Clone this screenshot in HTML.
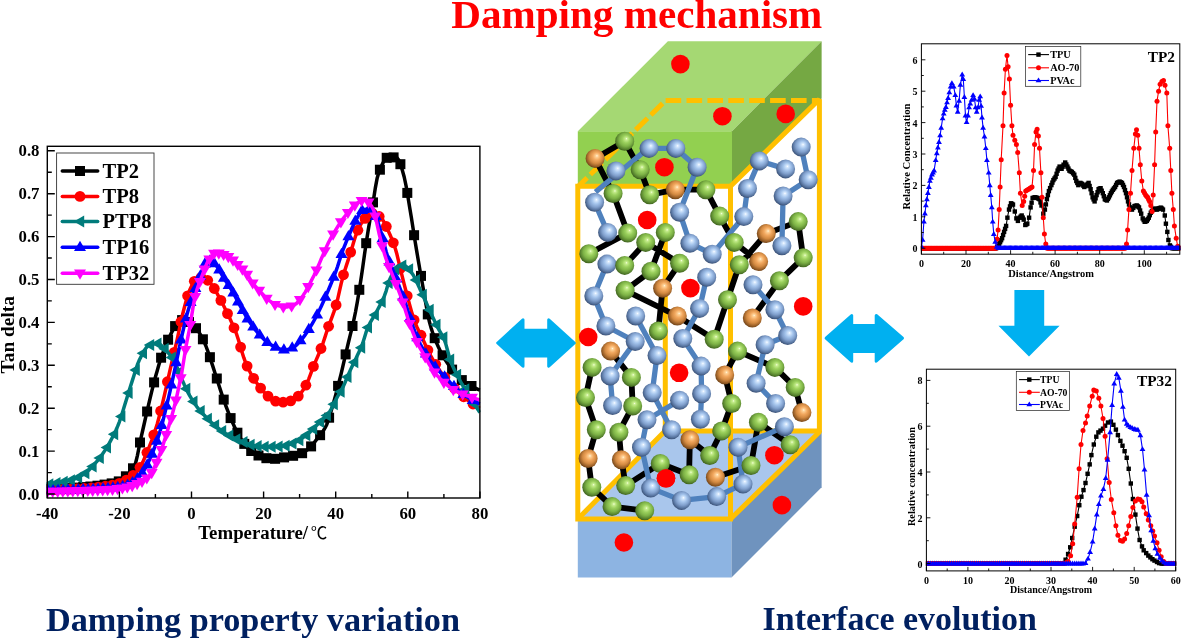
<!DOCTYPE html>
<html lang="en"><head><meta charset="utf-8"><title>Damping mechanism</title>
<style>html,body{margin:0;padding:0;background:#fff}svg{display:block}</style></head><body>
<svg width="1181" height="638" viewBox="0 0 1181 638">
<rect width="1181" height="638" fill="#fff"/>
<defs>

<marker id="mSq" markerUnits="userSpaceOnUse" markerWidth="12" markerHeight="12" refX="6" refY="6" overflow="visible"><rect x="1" y="1" width="10" height="10" fill="#000"/></marker>
<marker id="mCi" markerUnits="userSpaceOnUse" markerWidth="12" markerHeight="12" refX="6" refY="6" overflow="visible"><circle cx="6" cy="6" r="5.4" fill="#ff0000"/></marker>
<marker id="mTl" markerUnits="userSpaceOnUse" markerWidth="14" markerHeight="14" refX="7" refY="7" overflow="visible"><path d="M0.8 7L11.2 1V13Z" fill="#007b7b"/></marker>
<marker id="mTu" markerUnits="userSpaceOnUse" markerWidth="14" markerHeight="14" refX="7" refY="7" overflow="visible"><path d="M7 0.4L13 10.6H1Z" fill="#0000ff"/></marker>
<marker id="mTd" markerUnits="userSpaceOnUse" markerWidth="14" markerHeight="14" refX="7" refY="7" overflow="visible"><path d="M7 13.6L13 3.4H1Z" fill="#ff00ff"/></marker>


<marker id="sSq" markerUnits="userSpaceOnUse" markerWidth="8" markerHeight="8" refX="4" refY="4" overflow="visible"><rect x="1.8" y="1.8" width="4.4" height="4.4" fill="#000"/></marker>
<marker id="sCi" markerUnits="userSpaceOnUse" markerWidth="8" markerHeight="8" refX="4" refY="4" overflow="visible"><circle cx="4" cy="4" r="2.5" fill="#ff0000"/></marker>
<marker id="sTu" markerUnits="userSpaceOnUse" markerWidth="8" markerHeight="8" refX="4" refY="4" overflow="visible"><path d="M4 0.9L6.9 5.8H1.1Z" fill="#0000ff"/></marker>


<radialGradient id="gg" cx="0.54" cy="0.44" r="0.57" fx="0.6" fy="0.36"><stop offset="0" stop-color="#f8ffe6"/><stop offset="0.1" stop-color="#c8ee90"/><stop offset="0.35" stop-color="#9bd05d"/><stop offset="0.62" stop-color="#7db246"/><stop offset="0.84" stop-color="#5a8630"/><stop offset="1" stop-color="#3c5f1b"/></radialGradient>
<radialGradient id="gb" cx="0.54" cy="0.44" r="0.57" fx="0.6" fy="0.36"><stop offset="0" stop-color="#ffffff"/><stop offset="0.1" stop-color="#d6e8fd"/><stop offset="0.35" stop-color="#a4c4ec"/><stop offset="0.62" stop-color="#809fcc"/><stop offset="0.84" stop-color="#57749f"/><stop offset="1" stop-color="#384e73"/></radialGradient>
<radialGradient id="go" cx="0.54" cy="0.44" r="0.57" fx="0.6" fy="0.36"><stop offset="0" stop-color="#fff8e4"/><stop offset="0.1" stop-color="#ffd49a"/><stop offset="0.35" stop-color="#f2a85f"/><stop offset="0.62" stop-color="#d38a42"/><stop offset="0.84" stop-color="#9d6229"/><stop offset="1" stop-color="#6e4116"/></radialGradient>

</defs>
<text x="451.3" y="28.4" font-family="'Liberation Serif',serif" font-weight="bold" font-size="41px" fill="#ff0000" textLength="371" lengthAdjust="spacingAndGlyphs">Damping mechanism</text>
<text x="46" y="630.6" font-family="'Liberation Serif',serif" font-weight="bold" font-size="34.3px" fill="#002060" textLength="414" lengthAdjust="spacingAndGlyphs">Damping property variation</text>
<text x="762.6" y="630" font-family="'Liberation Serif',serif" font-weight="bold" font-size="34px" fill="#002060" textLength="274.3" lengthAdjust="spacingAndGlyphs">Interface evolution</text>
<g id="leftplot">
<clipPath id="cl"><rect x="46.5" y="145.5" width="434" height="353"/></clipPath>
<g clip-path="url(#cl)">
<polyline fill="none" stroke="#000" stroke-width="3.5" stroke-linejoin="round" points="47.3,488.9 49.1,488.8 50.9,488.8 52.7,488.8 54.5,488.7 56.3,488.7 58.1,488.6 59.9,488.6 61.7,488.5 63.5,488.4 65.3,488.3 67.1,488.2 68.9,488.1 70.7,488.0 72.5,487.9 74.3,487.8 76.1,487.6 77.9,487.5 79.7,487.4 81.5,487.3 83.3,487.1 85.2,487.0 87.0,486.9 88.8,486.7 90.6,486.5 92.4,486.3 94.2,486.1 96.0,485.9 97.8,485.6 99.6,485.4 101.4,485.1 103.2,484.8 105.0,484.6 106.8,484.3 108.6,484.0 110.4,483.6 112.2,483.2 114.0,482.8 115.8,482.3 117.6,481.8 119.4,481.1 121.2,480.2 123.0,478.8 124.8,477.3 126.6,475.7 128.4,474.0 130.2,472.1 132.0,469.8 133.8,466.9 135.6,463.0 137.4,455.6 139.2,446.5 141.0,437.9 142.8,430.0 144.6,422.0 146.4,414.2 148.2,406.4 150.0,398.7 151.8,391.2 153.6,384.1 155.4,377.1 157.3,370.4 159.1,364.1 160.9,358.4 162.7,353.3 164.5,348.5 166.3,344.0 168.1,339.8 169.9,336.0 171.7,332.4 173.5,328.9 175.3,325.8 177.1,323.7 178.9,322.1 180.7,320.8 182.5,320.0 184.3,319.9 186.1,320.4 187.9,321.3 189.7,322.4 191.5,323.7 193.3,325.2 195.1,327.1 196.9,329.3 198.7,331.8 200.5,334.7 202.3,338.1 204.1,341.9 205.9,346.0 207.7,350.8 209.5,356.1 211.3,361.6 213.1,367.1 214.9,372.7 216.7,378.4 218.5,384.0 220.3,389.6 222.1,395.1 223.9,400.4 225.7,405.5 227.6,410.4 229.4,415.1 231.2,419.5 233.0,423.6 234.8,427.4 236.6,431.0 238.4,434.4 240.2,437.5 242.0,440.4 243.8,443.1 245.6,445.6 247.4,447.7 249.2,449.4 251.0,450.9 252.8,452.1 254.6,453.2 256.4,454.3 258.2,455.3 260.0,456.2 261.8,457.0 263.6,457.5 265.4,458.0 267.2,458.4 269.0,458.7 270.8,458.9 272.6,459.0 274.4,458.9 276.2,458.7 278.0,458.4 279.8,458.1 281.6,457.8 283.4,457.5 285.2,457.2 287.0,456.9 288.8,456.6 290.6,456.2 292.4,455.9 294.2,455.6 296.0,455.2 297.8,454.7 299.6,454.2 301.5,453.5 303.3,452.6 305.1,451.5 306.9,450.2 308.7,448.8 310.5,447.2 312.3,445.1 314.1,442.7 315.9,440.4 317.7,438.1 319.5,436.0 321.3,433.7 323.1,431.2 324.9,428.2 326.7,424.7 328.5,419.8 330.3,413.9 332.1,407.6 333.9,401.4 335.7,394.9 337.5,388.1 339.3,381.0 341.1,373.8 342.9,366.2 344.7,358.4 346.5,350.6 348.3,343.0 350.1,335.7 351.9,328.4 353.7,320.6 355.5,312.0 357.3,302.1 359.1,291.1 360.9,279.7 362.7,267.5 364.5,254.6 366.3,242.2 368.1,230.9 369.9,220.2 371.8,209.8 373.6,199.1 375.4,187.6 377.2,177.9 379.0,172.1 380.8,167.5 382.6,163.6 384.4,160.4 386.2,158.2 388.0,157.3 389.8,157.2 391.6,157.3 393.4,157.4 395.2,157.5 397.0,157.8 398.8,160.1 400.6,164.7 402.4,170.6 404.2,177.0 406.0,185.5 407.8,196.0 409.6,207.0 411.4,217.8 413.2,229.3 415.0,240.7 416.8,251.6 418.6,262.3 420.4,272.7 422.2,282.8 424.0,292.9 425.8,303.4 427.6,313.3 429.4,321.8 431.2,328.2 433.0,333.7 434.8,338.6 436.6,343.0 438.4,347.0 440.2,350.7 442.0,354.3 443.9,357.5 445.7,360.5 447.5,363.2 449.3,365.8 451.1,368.3 452.9,370.7 454.7,373.0 456.5,375.1 458.3,377.0 460.1,378.7 461.9,380.2 463.7,381.4 465.5,382.6 467.3,383.6 469.1,384.7 470.9,385.7 472.7,386.7 474.5,387.6 476.3,388.5 478.1,389.4 479.9,390.2"/>
<polyline fill="none" stroke="none" marker-start="url(#mSq)" marker-mid="url(#mSq)" marker-end="url(#mSq)" points="47.3,488.9 54.5,488.7 61.7,488.5 68.9,488.1 76.1,487.6 83.2,487.1 90.4,486.5 97.5,485.7 104.6,484.6 111.7,483.4 118.8,481.4 125.9,476.3 133.0,468.3 140.0,442.5 147.1,411.5 154.1,382.4 161.1,357.7 168.1,339.7 175.1,326.1 182.1,320.1 189.0,322.0 196.0,328.2 202.9,339.3 209.9,357.2 216.8,378.5 223.7,399.6 230.6,418.1 237.4,432.7 244.3,443.9 251.2,451.0 258.5,455.5 266.4,458.2 275.1,458.8 284.1,457.4 293.1,455.8 302.1,453.2 311.1,446.4 320.1,435.2 329.1,417.7 338.1,385.9 345.6,354.4 352.5,326.0 359.3,289.8 366.2,243.2 373.0,202.4 379.9,169.7 386.7,157.8 393.6,157.4 400.4,164.2 407.3,192.9 414.1,235.2 421.0,275.9 427.8,314.4 434.7,338.2 442.6,355.3 452.1,369.6 461.8,380.1 471.5,386.0"/>
<polyline fill="none" stroke="#ff0000" stroke-width="3.5" stroke-linejoin="round" points="47.3,489.7 49.1,489.7 50.9,489.7 52.7,489.7 54.5,489.6 56.3,489.6 58.1,489.6 59.9,489.5 61.7,489.4 63.5,489.4 65.3,489.3 67.1,489.2 68.9,489.2 70.7,489.1 72.5,489.0 74.3,488.9 76.1,488.8 77.9,488.7 79.7,488.6 81.5,488.5 83.3,488.4 85.2,488.3 87.0,488.2 88.8,488.1 90.6,487.9 92.4,487.8 94.2,487.6 96.0,487.4 97.8,487.2 99.6,487.0 101.4,486.8 103.2,486.5 105.0,486.3 106.8,486.0 108.6,485.7 110.4,485.4 112.2,485.1 114.0,484.7 115.8,484.3 117.6,483.8 119.4,483.3 121.2,482.7 123.0,481.9 124.8,481.0 126.6,480.0 128.4,478.8 130.2,477.6 132.0,476.3 133.8,474.7 135.6,472.9 137.4,470.8 139.2,468.4 141.0,465.7 142.8,462.1 144.6,458.0 146.4,453.7 148.2,449.4 150.0,444.9 151.8,440.3 153.6,435.3 155.4,429.8 157.3,423.7 159.1,417.0 160.9,409.9 162.7,402.6 164.5,394.9 166.3,386.8 168.1,378.6 169.9,370.6 171.7,362.9 173.5,355.3 175.3,347.7 177.1,339.8 178.9,331.3 180.7,322.7 182.5,314.7 184.3,307.7 186.1,301.0 187.9,295.0 189.7,290.0 191.5,286.4 193.3,283.0 195.1,280.1 196.9,278.1 198.7,277.4 200.5,277.5 202.3,277.7 204.1,278.1 205.9,278.9 207.7,280.3 209.5,282.2 211.3,284.2 213.1,286.7 214.9,289.5 216.7,292.7 218.5,296.1 220.3,299.4 222.1,302.8 223.9,306.3 225.7,310.0 227.6,313.8 229.4,317.6 231.2,321.4 233.0,325.4 234.8,329.6 236.6,334.2 238.4,339.7 240.2,345.8 242.0,351.9 243.8,357.7 245.6,362.7 247.4,366.8 249.2,370.5 251.0,373.8 252.8,376.9 254.6,379.8 256.4,382.4 258.2,385.0 260.0,387.3 261.8,389.5 263.6,391.6 265.4,393.5 267.2,395.3 269.0,397.1 270.8,398.5 272.6,399.6 274.4,400.6 276.2,401.5 278.0,402.2 279.8,402.4 281.6,402.4 283.4,402.2 285.2,402.0 287.0,401.8 288.8,401.4 290.6,400.9 292.4,400.2 294.2,399.4 296.0,398.3 297.8,396.6 299.6,394.6 301.5,392.3 303.3,389.7 305.1,386.7 306.9,383.2 308.7,379.1 310.5,374.4 312.3,369.4 314.1,364.8 315.9,360.6 317.7,356.5 319.5,352.3 321.3,347.8 323.1,342.8 324.9,337.4 326.7,331.8 328.5,326.5 330.3,321.6 332.1,316.9 333.9,311.9 335.7,306.4 337.5,299.8 339.3,291.9 341.1,283.9 342.9,276.9 344.7,270.8 346.5,265.1 348.3,259.6 350.1,254.0 351.9,248.2 353.7,242.1 355.5,236.3 357.3,231.4 359.1,227.6 360.9,224.2 362.7,221.3 364.5,218.9 366.3,217.1 368.1,215.4 369.9,214.0 371.8,213.2 373.6,213.1 375.4,213.6 377.2,214.7 379.0,216.2 380.8,218.0 382.6,219.8 384.4,222.6 386.2,226.3 388.0,230.2 389.8,234.2 391.6,238.4 393.4,243.1 395.2,248.3 397.0,254.6 398.8,262.2 400.6,269.9 402.4,277.1 404.2,284.3 406.0,291.3 407.8,298.0 409.6,304.6 411.4,311.1 413.2,317.2 415.0,322.4 416.8,326.7 418.6,330.5 420.4,334.0 422.2,337.8 424.0,341.7 425.8,345.7 427.6,349.6 429.4,353.3 431.2,356.7 433.0,359.9 434.8,362.9 436.6,365.8 438.4,368.5 440.2,371.2 442.0,373.7 443.9,376.0 445.7,378.3 447.5,380.5 449.3,382.6 451.1,384.6 452.9,386.6 454.7,388.5 456.5,390.3 458.3,392.1 460.1,393.7 461.9,395.3 463.7,396.9 465.5,398.3 467.3,399.8 469.1,401.2 470.9,402.5 472.7,403.8 474.5,405.0 476.3,406.1 478.1,407.2 479.9,408.2"/>
<polyline fill="none" stroke="none" marker-start="url(#mCi)" marker-mid="url(#mCi)" marker-end="url(#mCi)" points="48.4,489.7 55.6,489.6 62.8,489.4 69.9,489.1 77.0,488.8 84.2,488.4 91.2,487.9 98.3,487.1 105.3,486.2 112.3,485.1 119.3,483.3 126.2,480.2 133.1,475.3 140.0,467.3 146.9,452.5 153.8,434.9 160.6,411.0 167.4,381.7 174.2,352.4 180.9,321.7 187.6,295.8 194.3,281.3 201.0,277.5 207.7,280.3 214.3,288.5 220.9,300.4 227.5,313.6 234.0,327.8 240.6,347.1 247.1,366.1 253.6,378.3 260.6,388.1 268.0,396.1 275.6,401.2 283.1,402.2 290.7,400.9 298.3,396.1 305.9,385.2 313.4,366.4 321.0,348.5 328.6,326.3 336.1,305.0 343.5,274.8 350.7,252.1 357.9,230.2 365.0,218.4 372.1,213.1 379.2,216.5 386.3,226.5 393.3,242.8 400.3,268.5 407.2,295.8 414.1,320.0 421.0,335.2 427.9,350.1 435.7,364.3 444.9,377.4 454.3,388.1 463.7,396.8 473.0,404.0"/>
<polyline fill="none" stroke="#007b7b" stroke-width="3.5" stroke-linejoin="round" points="47.3,484.6 49.1,484.3 50.9,484.0 52.7,483.7 54.5,483.4 56.3,483.1 58.1,482.8 59.9,482.5 61.7,482.1 63.5,481.8 65.3,481.4 67.1,481.1 68.9,480.6 70.7,480.2 72.5,479.6 74.3,479.0 76.1,478.3 77.9,477.4 79.7,476.5 81.5,475.5 83.3,474.4 85.2,473.2 87.0,471.8 88.8,470.2 90.6,468.3 92.4,466.4 94.2,464.4 96.0,462.4 97.8,460.3 99.6,458.0 101.4,455.7 103.2,453.1 105.0,450.4 106.8,447.5 108.6,444.5 110.4,441.2 112.2,437.8 114.0,434.3 115.8,430.5 117.6,426.4 119.4,421.8 121.2,416.6 123.0,410.7 124.8,404.7 126.6,399.0 128.4,393.1 130.2,387.3 132.0,381.6 133.8,376.0 135.6,370.1 137.4,364.7 139.2,360.3 141.0,356.7 142.8,353.2 144.6,350.0 146.4,347.5 148.2,345.7 150.0,344.9 151.8,344.3 153.6,343.9 155.4,343.6 157.3,343.4 159.1,343.8 160.9,345.0 162.7,346.7 164.5,348.7 166.3,350.7 168.1,352.7 169.9,354.9 171.7,357.4 173.5,360.2 175.3,363.4 177.1,367.4 178.9,372.0 180.7,376.5 182.5,380.6 184.3,384.8 186.1,388.7 187.9,392.3 189.7,395.6 191.5,398.7 193.3,401.6 195.1,404.3 196.9,406.8 198.7,409.0 200.5,411.2 202.3,413.2 204.1,415.1 205.9,416.9 207.7,418.7 209.5,420.5 211.3,422.2 213.1,423.8 214.9,425.4 216.7,426.9 218.5,428.3 220.3,429.7 222.1,431.0 223.9,432.2 225.7,433.4 227.6,434.6 229.4,435.7 231.2,436.7 233.0,437.6 234.8,438.5 236.6,439.3 238.4,440.1 240.2,440.8 242.0,441.5 243.8,442.2 245.6,442.9 247.4,443.5 249.2,444.2 251.0,444.9 252.8,445.4 254.6,445.7 256.4,446.0 258.2,446.2 260.0,446.4 261.8,446.6 263.6,446.7 265.4,446.8 267.2,446.8 269.0,446.8 270.8,446.8 272.6,446.7 274.4,446.7 276.2,446.6 278.0,446.5 279.8,446.4 281.6,446.3 283.4,446.0 285.2,445.7 287.0,445.2 288.8,444.7 290.6,444.1 292.4,443.5 294.2,442.8 296.0,442.0 297.8,441.0 299.6,439.9 301.5,438.7 303.3,437.4 305.1,436.0 306.9,434.6 308.7,433.2 310.5,431.6 312.3,429.8 314.1,428.0 315.9,426.1 317.7,424.2 319.5,422.4 321.3,420.7 323.1,419.1 324.9,417.4 326.7,415.6 328.5,413.4 330.3,410.8 332.1,407.4 333.9,403.6 335.7,399.9 337.5,396.6 339.3,393.6 341.1,390.5 342.9,387.2 344.7,383.3 346.5,379.0 348.3,374.6 350.1,370.6 351.9,366.8 353.7,363.1 355.5,359.4 357.3,355.6 359.1,351.8 360.9,347.8 362.7,343.2 364.5,337.5 366.3,331.6 368.1,326.9 369.9,323.2 371.8,319.9 373.6,316.9 375.4,313.8 377.2,310.5 379.0,307.1 380.8,303.6 382.6,299.9 384.4,295.9 386.2,290.8 388.0,284.4 389.8,279.2 391.6,275.6 393.4,272.4 395.2,269.7 397.0,267.8 398.8,266.7 400.6,265.9 402.4,265.4 404.2,265.4 406.0,266.4 407.8,268.0 409.6,270.2 411.4,272.4 413.2,275.0 415.0,278.3 416.8,282.1 418.6,286.1 420.4,290.1 422.2,294.0 424.0,297.9 425.8,301.8 427.6,305.8 429.4,309.7 431.2,313.7 433.0,317.7 434.8,321.6 436.6,325.4 438.4,328.8 440.2,331.8 442.0,335.0 443.9,338.7 445.7,343.6 447.5,350.2 449.3,357.0 451.1,362.2 452.9,366.5 454.7,370.4 456.5,374.0 458.3,377.5 460.1,380.8 461.9,384.0 463.7,387.0 465.5,390.0 467.3,392.9 469.1,395.8 470.9,398.6 472.7,401.5 474.5,404.3 476.3,407.1 478.1,409.8 479.9,412.5"/>
<polyline fill="none" stroke="none" marker-start="url(#mTl)" marker-mid="url(#mTl)" marker-end="url(#mTl)" points="49.1,484.3 56.3,483.1 63.5,481.8 70.7,480.2 77.9,477.4 85.2,473.2 92.4,466.4 99.6,458.0 106.8,447.5 114.0,434.3 121.2,416.6 128.4,393.1 135.6,370.1 142.8,353.2 150.0,344.9 157.3,343.4 164.5,348.7 171.7,357.4 178.9,372.0 186.1,388.7 193.3,401.6 200.5,411.1 207.7,418.7 214.9,425.3 222.0,430.9 229.1,435.5 236.2,439.2 243.3,442.0 250.4,444.7 257.4,446.1 264.4,446.8 271.4,446.8 278.4,446.5 285.4,445.7 292.3,443.5 299.2,440.2 306.1,435.2 313.0,429.0 319.9,422.0 326.7,415.5 333.6,404.2 340.4,391.7 347.3,377.1 354.1,362.3 361.0,347.7 367.8,327.6 374.7,315.0 381.5,302.1 388.4,283.0 395.2,269.6 402.1,265.5 408.9,269.3 415.8,279.9 422.6,294.8 429.5,309.8 436.3,324.8 443.2,337.3 450.0,359.4 456.9,374.8 465.1,389.3 474.5,404.2"/>
<polyline fill="none" stroke="#0000ff" stroke-width="3.5" stroke-linejoin="round" points="47.3,490.6 49.1,490.6 50.9,490.5 52.7,490.5 54.5,490.5 56.3,490.5 58.1,490.4 59.9,490.4 61.7,490.4 63.5,490.3 65.3,490.3 67.1,490.2 68.9,490.2 70.7,490.1 72.5,490.1 74.3,490.0 76.1,490.0 77.9,489.9 79.7,489.8 81.5,489.8 83.3,489.7 85.2,489.6 87.0,489.6 88.8,489.5 90.6,489.4 92.4,489.3 94.2,489.3 96.0,489.2 97.8,489.1 99.6,489.0 101.4,488.8 103.2,488.7 105.0,488.6 106.8,488.5 108.6,488.3 110.4,488.2 112.2,488.0 114.0,487.8 115.8,487.6 117.6,487.3 119.4,487.0 121.2,486.7 123.0,486.3 124.8,485.9 126.6,485.4 128.4,484.8 130.2,484.0 132.0,483.0 133.8,481.9 135.6,480.6 137.4,478.9 139.2,477.0 141.0,474.7 142.8,472.2 144.6,469.4 146.4,466.2 148.2,462.6 150.0,458.7 151.8,454.5 153.6,450.1 155.4,445.2 157.3,440.0 159.1,434.4 160.9,428.5 162.7,421.8 164.5,414.6 166.3,407.1 168.1,399.6 169.9,391.8 171.7,383.7 173.5,375.5 175.3,367.1 177.1,358.4 178.9,349.7 180.7,341.4 182.5,333.2 184.3,325.3 186.1,317.9 187.9,311.3 189.7,305.3 191.5,299.7 193.3,294.4 195.1,289.3 196.9,284.5 198.7,279.8 200.5,275.2 202.3,270.1 204.1,265.4 205.9,262.9 207.7,261.8 209.5,261.2 211.3,261.2 213.1,262.3 214.9,264.2 216.7,266.2 218.5,268.8 220.3,271.9 222.1,275.2 223.9,278.2 225.7,281.0 227.6,283.7 229.4,286.5 231.2,289.3 233.0,292.3 234.8,295.6 236.6,299.1 238.4,302.6 240.2,305.9 242.0,309.1 243.8,312.3 245.6,315.5 247.4,318.5 249.2,321.3 251.0,324.0 252.8,326.5 254.6,328.9 256.4,331.2 258.2,333.3 260.0,335.3 261.8,337.1 263.6,339.0 265.4,340.7 267.2,342.3 269.0,343.6 270.8,344.7 272.6,345.6 274.4,346.6 276.2,347.4 278.0,348.2 279.8,348.9 281.6,349.4 283.4,349.7 285.2,349.9 287.0,349.7 288.8,349.2 290.6,348.6 292.4,347.8 294.2,346.9 296.0,345.5 297.8,343.7 299.6,341.7 301.5,339.6 303.3,337.3 305.1,334.9 306.9,332.3 308.7,329.5 310.5,326.7 312.3,323.7 314.1,320.5 315.9,317.2 317.7,313.6 319.5,310.0 321.3,306.2 323.1,302.3 324.9,298.2 326.7,294.1 328.5,289.8 330.3,285.5 332.1,281.1 333.9,276.6 335.7,271.9 337.5,266.7 339.3,261.0 341.1,255.4 342.9,250.2 344.7,245.6 346.5,241.2 348.3,237.0 350.1,232.8 351.9,228.5 353.7,224.4 355.5,220.7 357.3,217.6 359.1,214.4 360.9,211.7 362.7,210.1 364.5,209.6 366.3,209.3 368.1,209.1 369.9,209.7 371.8,211.0 373.6,213.0 375.4,215.4 377.2,219.8 379.0,225.5 380.8,231.5 382.6,237.8 384.4,244.8 386.2,251.7 388.0,257.5 389.8,262.5 391.6,267.1 393.4,271.5 395.2,275.9 397.0,280.5 398.8,285.2 400.6,289.8 402.4,294.5 404.2,299.4 406.0,304.7 407.8,310.5 409.6,316.3 411.4,322.0 413.2,327.0 415.0,331.9 416.8,336.4 418.6,340.6 420.4,344.2 422.2,347.6 424.0,350.9 425.8,353.9 427.6,356.7 429.4,359.4 431.2,361.9 433.0,364.2 434.8,366.4 436.6,368.4 438.4,370.4 440.2,372.3 442.0,374.2 443.9,376.0 445.7,377.9 447.5,379.8 449.3,381.6 451.1,383.5 452.9,385.3 454.7,387.0 456.5,388.7 458.3,390.3 460.1,391.8 461.9,393.2 463.7,394.5 465.5,395.7 467.3,397.0 469.1,398.1 470.9,399.3 472.7,400.3 474.5,401.3 476.3,402.3 478.1,403.1 479.9,403.9"/>
<polyline fill="none" stroke="none" marker-start="url(#mTu)" marker-mid="url(#mTu)" marker-end="url(#mTu)" points="48.0,490.6 53.1,490.5 58.1,490.4 63.1,490.3 68.1,490.2 73.2,490.0 78.2,489.9 83.1,489.7 88.1,489.5 93.1,489.3 98.1,489.1 103.0,488.7 108.0,488.4 112.9,487.9 117.8,487.3 122.7,486.4 127.6,485.1 132.5,482.7 137.4,478.9 142.3,473.0 147.2,464.8 152.0,454.1 156.9,441.1 161.7,425.3 166.6,405.9 171.4,384.9 176.2,362.6 181.0,339.8 185.8,319.0 190.6,302.4 195.4,288.5 200.2,276.1 204.9,263.9 209.7,261.1 214.4,263.6 219.2,269.9 223.9,278.1 228.6,285.4 233.3,293.0 238.0,301.9 242.7,310.5 247.5,318.8 253.2,327.0 259.7,335.0 267.3,342.4 275.6,347.2 283.9,349.8 292.2,347.9 300.5,340.7 308.8,329.3 317.1,314.8 325.4,297.1 333.7,277.2 341.5,254.3 348.4,236.7 355.3,221.2 362.1,210.5 369.0,209.3 375.8,216.4 382.7,238.3 389.5,261.9 396.4,279.0 403.2,296.8 410.1,317.9 417.3,337.7 425.9,353.9 435.2,366.9 444.6,376.8 454.0,386.4 463.4,394.3 472.7,400.3"/>
<polyline fill="none" stroke="#ff00ff" stroke-width="3.5" stroke-linejoin="round" points="47.3,491.4 49.1,491.4 50.9,491.4 52.7,491.3 54.5,491.3 56.3,491.3 58.1,491.2 59.9,491.2 61.7,491.2 63.5,491.1 65.3,491.1 67.1,491.0 68.9,491.0 70.7,490.9 72.5,490.9 74.3,490.8 76.1,490.8 77.9,490.7 79.7,490.7 81.5,490.6 83.3,490.6 85.2,490.5 87.0,490.5 88.8,490.4 90.6,490.3 92.4,490.3 94.2,490.2 96.0,490.1 97.8,490.1 99.6,490.0 101.4,489.9 103.2,489.8 105.0,489.7 106.8,489.6 108.6,489.5 110.4,489.4 112.2,489.3 114.0,489.1 115.8,488.9 117.6,488.7 119.4,488.5 121.2,488.2 123.0,487.8 124.8,487.5 126.6,487.1 128.4,486.7 130.2,486.2 132.0,485.7 133.8,485.0 135.6,484.4 137.4,483.6 139.2,482.8 141.0,481.9 142.8,480.8 144.6,479.7 146.4,478.3 148.2,476.7 150.0,474.9 151.8,472.4 153.6,469.0 155.4,465.0 157.3,460.6 159.1,456.2 160.9,451.3 162.7,446.0 164.5,440.3 166.3,434.5 168.1,428.6 169.9,422.6 171.7,416.3 173.5,409.7 175.3,402.6 177.1,395.0 178.9,386.7 180.7,377.8 182.5,368.2 184.3,357.0 186.1,345.8 187.9,336.8 189.7,328.0 191.5,316.9 193.3,305.7 195.1,296.4 196.9,289.9 198.7,284.5 200.5,279.8 202.3,275.2 204.1,270.4 205.9,265.6 207.7,261.6 209.5,258.7 211.3,256.2 213.1,254.2 214.9,253.0 216.7,252.9 218.5,253.2 220.3,253.6 222.1,254.1 223.9,254.6 225.7,255.3 227.6,256.3 229.4,257.4 231.2,258.7 233.0,260.0 234.8,261.6 236.6,263.3 238.4,265.2 240.2,267.0 242.0,268.8 243.8,270.6 245.6,272.6 247.4,274.7 249.2,277.5 251.0,280.6 252.8,283.1 254.6,285.3 256.4,287.4 258.2,289.4 260.0,291.3 261.8,293.3 263.6,295.2 265.4,297.1 267.2,298.9 269.0,300.4 270.8,301.7 272.6,303.0 274.4,304.1 276.2,305.0 278.0,305.6 279.8,306.1 281.6,306.5 283.4,306.8 285.2,307.0 287.0,306.9 288.8,306.6 290.6,306.2 292.4,305.7 294.2,305.1 296.0,303.9 297.8,302.1 299.6,300.0 301.5,297.6 303.3,295.2 305.1,292.3 306.9,289.1 308.7,285.7 310.5,282.4 312.3,278.8 314.1,275.2 315.9,271.3 317.7,267.3 319.5,263.1 321.3,258.8 323.1,254.7 324.9,250.5 326.7,246.4 328.5,242.5 330.3,239.1 332.1,235.8 333.9,232.8 335.7,229.9 337.5,227.0 339.3,224.2 341.1,221.5 342.9,218.9 344.7,216.5 346.5,214.3 348.3,212.1 350.1,210.1 351.9,208.0 353.7,206.1 355.5,204.5 357.3,203.2 359.1,202.0 360.9,200.8 362.7,200.0 364.5,199.7 366.3,200.2 368.1,201.7 369.9,203.9 371.8,206.6 373.6,209.9 375.4,216.3 377.2,224.9 379.0,233.2 380.8,240.3 382.6,247.2 384.4,253.6 386.2,259.1 388.0,264.0 389.8,268.4 391.6,272.8 393.4,277.3 395.2,281.9 397.0,286.5 398.8,291.2 400.6,295.9 402.4,300.9 404.2,306.4 406.0,312.2 407.8,318.1 409.6,323.5 411.4,328.5 413.2,333.2 415.0,337.7 416.8,341.7 418.6,345.3 420.4,348.6 422.2,351.7 424.0,354.8 425.8,358.1 427.6,361.4 429.4,364.7 431.2,367.7 433.0,370.2 434.8,372.6 436.6,374.8 438.4,376.8 440.2,378.7 442.0,380.5 443.9,382.2 445.7,383.9 447.5,385.4 449.3,386.9 451.1,388.2 452.9,389.3 454.7,390.4 456.5,391.4 458.3,392.3 460.1,393.1 461.9,393.9 463.7,394.6 465.5,395.2 467.3,395.8 469.1,396.4 470.9,397.0 472.7,397.6 474.5,398.2 476.3,398.8 478.1,399.4 479.9,400.0"/>
<polyline fill="none" stroke="none" marker-start="url(#mTd)" marker-mid="url(#mTd)" marker-end="url(#mTd)" points="47.7,491.4 52.7,491.3 57.7,491.3 62.8,491.1 67.8,491.0 72.8,490.9 77.8,490.7 82.8,490.6 87.8,490.4 92.7,490.3 97.7,490.1 102.7,489.9 107.6,489.6 112.5,489.3 117.5,488.7 122.4,488.0 127.3,487.0 132.2,485.6 137.1,483.7 142.0,481.3 146.8,478.0 151.7,472.7 156.5,462.3 161.4,449.7 166.2,434.6 171.1,418.5 175.9,400.2 180.7,377.8 185.5,349.5 190.3,324.6 195.1,296.6 199.8,281.6 204.6,269.1 209.3,259.0 214.1,253.4 218.8,253.2 223.6,254.5 228.3,256.7 233.0,260.1 237.7,264.5 242.4,269.2 247.1,274.4 252.7,283.0 259.2,290.4 266.7,298.4 275.0,304.5 283.3,306.8 291.6,306.0 299.9,299.6 308.2,286.6 316.5,270.0 324.8,250.8 333.1,234.2 340.9,221.8 347.9,212.5 354.8,205.1 361.6,200.5 368.5,202.1 375.3,216.2 382.2,245.8 389.0,266.7 395.9,283.7 402.7,302.0 409.6,323.5 416.8,341.6 425.2,356.9 434.5,372.2 443.9,382.3 453.3,389.6 462.7,394.2 472.0,397.4"/>
</g>
<rect x="47.3" y="146.3" width="432.6" height="351.7" fill="none" stroke="#000" stroke-width="1.4"/>
<path d="M47.3 494.0h7.5M47.3 472.6h4.5M47.3 451.1h7.5M47.3 429.6h4.5M47.3 408.2h7.5M47.3 386.8h4.5M47.3 365.3h7.5M47.3 343.9h4.5M47.3 322.4h7.5M47.3 300.9h4.5M47.3 279.5h7.5M47.3 258.0h4.5M47.3 236.6h7.5M47.3 215.1h4.5M47.3 193.7h7.5M47.3 172.2h4.5M47.3 150.8h7.5M47.3 498v-6.5M83.3 498v-4.0M119.4 498v-6.5M155.4 498v-4.0M191.5 498v-6.5M227.6 498v-4.0M263.6 498v-6.5M299.6 498v-4.0M335.7 498v-6.5M371.8 498v-4.0M407.8 498v-6.5M443.9 498v-4.0M479.9 498v-6.5" stroke="#000" stroke-width="1.4" fill="none"/>
<g font-family="'Liberation Serif',serif" font-weight="bold" font-size="16.8px" fill="#000">
<text x="39.5" y="499.6" text-anchor="end">0.0</text>
<text x="39.5" y="456.7" text-anchor="end">0.1</text>
<text x="39.5" y="413.8" text-anchor="end">0.2</text>
<text x="39.5" y="370.9" text-anchor="end">0.3</text>
<text x="39.5" y="328.0" text-anchor="end">0.4</text>
<text x="39.5" y="285.1" text-anchor="end">0.5</text>
<text x="39.5" y="242.2" text-anchor="end">0.6</text>
<text x="39.5" y="199.3" text-anchor="end">0.7</text>
<text x="39.5" y="156.4" text-anchor="end">0.8</text>
<text x="47.3" y="518.6" text-anchor="middle">-40</text>
<text x="119.4" y="518.6" text-anchor="middle">-20</text>
<text x="191.5" y="518.6" text-anchor="middle">0</text>
<text x="263.6" y="518.6" text-anchor="middle">20</text>
<text x="335.7" y="518.6" text-anchor="middle">40</text>
<text x="407.8" y="518.6" text-anchor="middle">60</text>
<text x="479.9" y="518.6" text-anchor="middle">80</text>
</g>
<text transform="translate(13.7 334.7) rotate(-90)" x="-38.75" font-family="'Liberation Serif',serif" font-weight="bold" font-size="18.8px" textLength="77.5" lengthAdjust="spacingAndGlyphs">Tan delta</text>
<text x="198.3" y="539.2" font-family="'Liberation Serif',serif" font-weight="bold" font-size="18.5px" textLength="109.7" lengthAdjust="spacingAndGlyphs">Temperature/</text>
<text x="310.8" y="539.2" font-family="'Liberation Sans','Noto Sans CJK SC',sans-serif" font-size="16.5px">℃</text>
<rect x="56.6" y="153" width="97.4" height="131.3" fill="#fff" stroke="#333" stroke-width="0.9"/>
<path d="M62.3 171.0H97.7" stroke="#000" stroke-width="3.5" stroke-linecap="round" fill="none"/>
<polyline fill="none" stroke="none" marker-start="url(#mSq)" points="80,171.0 81,171.0"/>
<text x="102.5" y="177.8" font-family="'Liberation Serif',serif" font-weight="bold" font-size="20.5px">TP2</text>
<path d="M62.3 196.4H97.7" stroke="#ff0000" stroke-width="3.5" stroke-linecap="round" fill="none"/>
<polyline fill="none" stroke="none" marker-start="url(#mCi)" points="80,196.4 81,196.4"/>
<text x="102.5" y="203.2" font-family="'Liberation Serif',serif" font-weight="bold" font-size="20.5px">TP8</text>
<path d="M62.3 221.5H97.7" stroke="#007b7b" stroke-width="3.5" stroke-linecap="round" fill="none"/>
<polyline fill="none" stroke="none" marker-start="url(#mTl)" points="80,221.5 81,221.5"/>
<text x="102.5" y="228.3" font-family="'Liberation Serif',serif" font-weight="bold" font-size="20.5px">PTP8</text>
<path d="M62.3 247.3H97.7" stroke="#0000ff" stroke-width="3.5" stroke-linecap="round" fill="none"/>
<polyline fill="none" stroke="none" marker-start="url(#mTu)" points="80,247.3 81,247.3"/>
<text x="102.5" y="254.1" font-family="'Liberation Serif',serif" font-weight="bold" font-size="20.5px">TP16</text>
<path d="M62.3 273.2H97.7" stroke="#ff00ff" stroke-width="3.5" stroke-linecap="round" fill="none"/>
<polyline fill="none" stroke="none" marker-start="url(#mTd)" points="80,273.2 81,273.2"/>
<text x="102.5" y="280.0" font-family="'Liberation Serif',serif" font-weight="bold" font-size="20.5px">TP32</text>
</g>
<g id="center">
<path d="M577.8 131.2L667.9 41.2H821.6L732 131.2Z" fill="#a5d873"/>
<path d="M577.8 131.2H732V186.5H577.8Z" fill="#92d050"/>
<path d="M732 131.2L821.6 41.2V98.5L732 186.5Z" fill="#75a843"/>
<path d="M577.8 519.5L664.5 430.5H821.6L731.5 519.5Z" fill="#a9c6ec"/>
<path d="M577.8 519.5H731.5V577.6H577.8Z" fill="#8db4e2"/>
<path d="M731.5 519.5L821.6 430.5V487.3L731.5 577.6Z" fill="#6f93be"/>
<g fill="none" stroke="#ffc000" stroke-width="5" stroke-linejoin="miter">
<path d="M665.6 100.5H819.4" stroke-dasharray="15.6 5.3"/>
<path d="M664.6 101.4L577.3 187.4" stroke-dasharray="16.6 4.6" stroke-dashoffset="18.4"/>
<path d="M665.3 186V431M664.5 431H819.4M577.8 519L665 431"/>
<path d="M577.8 186.3H730.5V519H577.8Z"/>
<path d="M730.5 186.3L819.4 99.2V432L730.5 519" stroke-linejoin="bevel"/>
</g>
<circle cx="680.4" cy="64.1" r="9.3" fill="#ff0000"/>
<circle cx="722.4" cy="116.2" r="9.3" fill="#ff0000"/>
<circle cx="785.7" cy="113.9" r="9.3" fill="#ff0000"/>
<circle cx="664.4" cy="167.2" r="9.3" fill="#ff0000"/>
<circle cx="647.2" cy="220.0" r="9.3" fill="#ff0000"/>
<circle cx="690.4" cy="288.1" r="9.3" fill="#ff0000"/>
<circle cx="803.2" cy="306.4" r="9.3" fill="#ff0000"/>
<circle cx="588.2" cy="337.0" r="9.3" fill="#ff0000"/>
<circle cx="679.1" cy="372.8" r="9.3" fill="#ff0000"/>
<circle cx="666.0" cy="478.3" r="9.3" fill="#ff0000"/>
<circle cx="774.4" cy="455.2" r="9.3" fill="#ff0000"/>
<circle cx="781.9" cy="505.1" r="9.3" fill="#ff0000"/>
<circle cx="623.9" cy="542.5" r="9.3" fill="#ff0000"/>
<path d="M595.1 158.4L624.7 141.3M624.7 141.3L640.2 169.7M640.2 169.7L649.7 194.8M649.7 194.8L675.3 189.7M675.3 189.7L705.9 189.7M705.9 189.7L719.7 216.1M719.7 216.1L734.2 242.4M595.1 158.4L613.1 193.5M613.1 193.5L627.7 233.1M588.8 253.7L627.7 233.1M645.7 242.4L624.7 265.4M645.7 242.4L679.6 263.2M665.3 232.4L651.0 271.2M679.6 263.2L662.6 288.3M651.0 271.2L625.1 290.3M734.2 242.4L758.6 261.6M766.3 233.6L739.3 264.8M766.3 233.6L798.2 221.6M798.2 221.6L803.2 257.8M803.2 257.8L779.4 280.8M739.3 264.8L727.5 299.7M625.1 290.3L677.3 316.0M662.6 288.3L658.3 331.0M677.3 316.0L714.2 339.3M714.2 339.3L727.5 299.7M779.4 280.8L752.3 318.0M737.5 351.1L774.9 367.4M774.9 367.4L795.2 387.4M795.2 387.4L801.9 412.6M737.5 351.1L724.7 374.9M724.7 374.9L731.7 403.5M731.7 403.5L721.7 430.9M592.1 367.4L585.5 397.6M585.5 397.6L596.3 429.7M610.6 351.1L631.4 377.4M631.4 377.4L632.7 406.0M632.7 406.0L618.9 432.2M596.3 429.7L588.1 458.5M588.1 458.5L591.8 487.3M591.8 487.3L612.1 506.6M612.1 506.6L644.7 510.7M618.9 432.2L621.4 459.8M621.4 459.8L625.7 485.6M625.7 485.6L660.3 463.5M660.3 463.5L689.1 474.8M689.1 474.8L689.9 439.7M689.9 439.7L709.7 455.5M709.7 455.5L721.7 430.9M715.4 477.3L751.0 465.5M751.0 465.5L758.4 422.3M758.4 422.3L790.2 444.7" stroke="#000" stroke-width="5.8" fill="none"/>
<path d="M649.0 148.4L675.8 148.4M675.8 148.4L697.1 167.2M594.6 202.3L607.6 232.4M697.1 167.2L679.6 212.3M679.6 212.3L689.9 243.2M689.9 243.2L712.2 254.2M712.2 254.2L743.8 216.6M743.8 216.6L747.5 188.5M747.5 188.5L759.3 160.9M759.3 160.9L785.6 168.9M801.2 147.1L808.2 179.7M808.2 179.7L783.1 196.0M783.1 196.0L781.9 245.7M606.9 264.1L593.8 295.9M593.8 295.9L605.9 326.0M605.9 326.0L635.2 341.5M635.2 341.5L610.1 376.1M610.1 376.1L612.6 405.5M635.7 316.0L657.0 355.6M657.0 355.6L652.2 392.8M652.2 392.8L671.6 429.7M679.6 400.2L647.0 419.8M706.7 277.3L699.6 308.4M699.6 308.4L682.8 338.5M682.8 338.5L701.1 366.1M701.1 366.1L701.6 393.8M701.6 393.8L700.4 419.3M753.0 284.8L774.9 309.7M774.9 309.7L787.7 335.5M787.7 335.5L765.1 344.8M765.1 344.8L756.1 383.2M756.1 383.2L775.6 403.5M647.0 419.8L641.5 447.2M641.5 447.2L650.7 488.1M650.7 488.1L681.6 500.4M681.6 500.4L716.7 496.6M716.7 496.6L743.0 484.1M743.0 484.1L738.0 447.2M738.0 447.2L784.4 426.7M649.0 147.6L595.5 192.0" stroke="#4f81bd" stroke-width="5.3" fill="none"/>
<circle cx="624.7" cy="141.3" r="9.5" fill="url(#gg)"/>
<circle cx="595.1" cy="158.4" r="9.5" fill="url(#go)"/>
<circle cx="649.0" cy="148.4" r="9.5" fill="url(#gb)"/>
<circle cx="675.8" cy="148.4" r="9.5" fill="url(#gb)"/>
<circle cx="615.9" cy="170.9" r="9.5" fill="url(#gb)"/>
<circle cx="640.2" cy="169.7" r="9.5" fill="url(#gg)"/>
<circle cx="697.1" cy="167.2" r="9.5" fill="url(#gb)"/>
<circle cx="613.1" cy="193.5" r="9.5" fill="url(#gg)"/>
<circle cx="649.7" cy="194.8" r="9.5" fill="url(#gg)"/>
<circle cx="675.3" cy="189.7" r="9.5" fill="url(#go)"/>
<circle cx="705.9" cy="189.7" r="9.5" fill="url(#gg)"/>
<circle cx="594.6" cy="202.3" r="9.5" fill="url(#gb)"/>
<circle cx="679.6" cy="212.3" r="9.5" fill="url(#gb)"/>
<circle cx="719.7" cy="216.1" r="9.5" fill="url(#gg)"/>
<circle cx="607.6" cy="232.4" r="9.5" fill="url(#gb)"/>
<circle cx="627.7" cy="233.1" r="9.5" fill="url(#gg)"/>
<circle cx="665.3" cy="232.4" r="9.5" fill="url(#gg)"/>
<circle cx="645.7" cy="242.4" r="9.5" fill="url(#gg)"/>
<circle cx="689.9" cy="243.2" r="9.5" fill="url(#gb)"/>
<circle cx="734.2" cy="242.4" r="9.5" fill="url(#gg)"/>
<circle cx="588.8" cy="253.7" r="9.5" fill="url(#gg)"/>
<circle cx="712.2" cy="254.2" r="9.5" fill="url(#gb)"/>
<circle cx="606.9" cy="264.1" r="9.5" fill="url(#gb)"/>
<circle cx="624.7" cy="265.4" r="9.5" fill="url(#gg)"/>
<circle cx="679.6" cy="263.2" r="9.5" fill="url(#gg)"/>
<circle cx="651.0" cy="271.2" r="9.5" fill="url(#gg)"/>
<circle cx="739.3" cy="264.8" r="9.5" fill="url(#gg)"/>
<circle cx="758.6" cy="261.6" r="9.5" fill="url(#go)"/>
<circle cx="706.7" cy="277.3" r="9.5" fill="url(#gb)"/>
<circle cx="759.3" cy="160.9" r="9.5" fill="url(#gb)"/>
<circle cx="785.6" cy="168.9" r="9.5" fill="url(#gb)"/>
<circle cx="801.2" cy="147.1" r="9.5" fill="url(#gb)"/>
<circle cx="808.2" cy="179.7" r="9.5" fill="url(#gb)"/>
<circle cx="747.5" cy="188.5" r="9.5" fill="url(#gb)"/>
<circle cx="783.1" cy="196.0" r="9.5" fill="url(#gb)"/>
<circle cx="743.8" cy="216.6" r="9.5" fill="url(#gb)"/>
<circle cx="766.3" cy="233.6" r="9.5" fill="url(#go)"/>
<circle cx="798.2" cy="221.6" r="9.5" fill="url(#gg)"/>
<circle cx="781.9" cy="245.7" r="9.5" fill="url(#gb)"/>
<circle cx="803.2" cy="257.8" r="9.5" fill="url(#gg)"/>
<circle cx="779.4" cy="280.8" r="9.5" fill="url(#gg)"/>
<circle cx="753.0" cy="284.8" r="9.5" fill="url(#gb)"/>
<circle cx="662.6" cy="288.3" r="9.5" fill="url(#go)"/>
<circle cx="625.1" cy="290.3" r="9.5" fill="url(#gg)"/>
<circle cx="593.8" cy="295.9" r="9.5" fill="url(#gb)"/>
<circle cx="635.7" cy="316.0" r="9.5" fill="url(#gb)"/>
<circle cx="677.3" cy="316.0" r="9.5" fill="url(#go)"/>
<circle cx="699.6" cy="308.4" r="9.5" fill="url(#gb)"/>
<circle cx="727.5" cy="299.7" r="9.5" fill="url(#gg)"/>
<circle cx="752.3" cy="318.0" r="9.5" fill="url(#go)"/>
<circle cx="774.9" cy="309.7" r="9.5" fill="url(#gb)"/>
<circle cx="605.9" cy="326.0" r="9.5" fill="url(#gb)"/>
<circle cx="658.3" cy="331.0" r="9.5" fill="url(#gg)"/>
<circle cx="682.8" cy="338.5" r="9.5" fill="url(#gb)"/>
<circle cx="714.2" cy="339.3" r="9.5" fill="url(#gg)"/>
<circle cx="787.7" cy="335.5" r="9.5" fill="url(#gb)"/>
<circle cx="765.1" cy="344.8" r="9.5" fill="url(#gb)"/>
<circle cx="635.2" cy="341.5" r="9.5" fill="url(#gb)"/>
<circle cx="610.6" cy="351.1" r="9.5" fill="url(#go)"/>
<circle cx="657.0" cy="355.6" r="9.5" fill="url(#gb)"/>
<circle cx="737.5" cy="351.1" r="9.5" fill="url(#gg)"/>
<circle cx="592.1" cy="367.4" r="9.5" fill="url(#gg)"/>
<circle cx="701.1" cy="366.1" r="9.5" fill="url(#gb)"/>
<circle cx="774.9" cy="367.4" r="9.5" fill="url(#gg)"/>
<circle cx="610.1" cy="376.1" r="9.5" fill="url(#gb)"/>
<circle cx="631.4" cy="377.4" r="9.5" fill="url(#gg)"/>
<circle cx="724.7" cy="374.9" r="9.5" fill="url(#go)"/>
<circle cx="756.1" cy="383.2" r="9.5" fill="url(#gb)"/>
<circle cx="795.2" cy="387.4" r="9.5" fill="url(#gg)"/>
<circle cx="652.2" cy="392.8" r="9.5" fill="url(#gb)"/>
<circle cx="701.6" cy="393.8" r="9.5" fill="url(#gb)"/>
<circle cx="585.5" cy="397.6" r="9.5" fill="url(#gg)"/>
<circle cx="679.6" cy="400.2" r="9.5" fill="url(#gb)"/>
<circle cx="731.7" cy="403.5" r="9.5" fill="url(#gg)"/>
<circle cx="775.6" cy="403.5" r="9.5" fill="url(#gb)"/>
<circle cx="612.6" cy="405.5" r="9.5" fill="url(#gb)"/>
<circle cx="632.7" cy="406.0" r="9.5" fill="url(#gg)"/>
<circle cx="801.9" cy="412.6" r="9.5" fill="url(#go)"/>
<circle cx="647.0" cy="419.8" r="9.5" fill="url(#gb)"/>
<circle cx="700.4" cy="419.3" r="9.5" fill="url(#gb)"/>
<circle cx="758.4" cy="422.3" r="9.5" fill="url(#gg)"/>
<circle cx="596.3" cy="429.7" r="9.5" fill="url(#gg)"/>
<circle cx="618.9" cy="432.2" r="9.5" fill="url(#gg)"/>
<circle cx="671.6" cy="429.7" r="9.5" fill="url(#gb)"/>
<circle cx="721.7" cy="430.9" r="9.5" fill="url(#gg)"/>
<circle cx="784.4" cy="426.7" r="9.5" fill="url(#gb)"/>
<circle cx="689.9" cy="439.7" r="9.5" fill="url(#go)"/>
<circle cx="641.5" cy="447.2" r="9.5" fill="url(#gb)"/>
<circle cx="738.0" cy="447.2" r="9.5" fill="url(#gb)"/>
<circle cx="790.2" cy="444.7" r="9.5" fill="url(#gg)"/>
<circle cx="709.7" cy="455.5" r="9.5" fill="url(#gg)"/>
<circle cx="588.1" cy="458.5" r="9.5" fill="url(#go)"/>
<circle cx="621.4" cy="459.8" r="9.5" fill="url(#go)"/>
<circle cx="660.3" cy="463.5" r="9.5" fill="url(#gg)"/>
<circle cx="751.0" cy="465.5" r="9.5" fill="url(#gg)"/>
<circle cx="689.1" cy="474.8" r="9.5" fill="url(#gg)"/>
<circle cx="715.4" cy="477.3" r="9.5" fill="url(#go)"/>
<circle cx="591.8" cy="487.3" r="9.5" fill="url(#gg)"/>
<circle cx="625.7" cy="485.6" r="9.5" fill="url(#gg)"/>
<circle cx="650.7" cy="488.1" r="9.5" fill="url(#gb)"/>
<circle cx="743.0" cy="484.1" r="9.5" fill="url(#gb)"/>
<circle cx="716.7" cy="496.6" r="9.5" fill="url(#gb)"/>
<circle cx="681.6" cy="500.4" r="9.5" fill="url(#gb)"/>
<circle cx="612.1" cy="506.6" r="9.5" fill="url(#gg)"/>
<circle cx="644.7" cy="510.7" r="9.5" fill="url(#gg)"/>
<circle cx="666.0" cy="478.3" r="9.3" fill="#ff0000"/>
<g fill="#00b0f0" stroke="#00b0f0" stroke-width="3" stroke-linejoin="round">
<path d="M497.7 343L523 319.8V330.3H548.7V319.8L574.3 343L548.7 366.2V355.9H523V366.2Z"/>
<path d="M826.1 338.2L851.7 315.5V325.4H876.2V315.5L902.5 338.2L876.2 361.2V351.5H851.7V361.2Z"/>
</g>
<path d="M1014.4 290H1044.2V325.8H1059.6L1029 356.5L998.5 325.8H1014.4Z" fill="#00b0f0"/>
</g>
<g id="pa">
<clipPath id="cpa"><rect x="920.9" y="43.3" width="259.4" height="211.4"/></clipPath>
<g clip-path="url(#cpa)">
<polyline fill="none" stroke="#000" stroke-width="1.1" marker-start="url(#sSq)" marker-mid="url(#sSq)" marker-end="url(#sSq)" points="921.4,248.2 922.6,248.2 923.8,248.2 925.1,248.2 926.3,248.2 927.5,248.2 928.7,248.2 930.0,248.2 931.2,248.2 932.4,248.2 933.6,248.2 934.9,248.2 936.1,248.2 937.3,248.2 938.5,248.2 939.8,248.2 941.0,248.2 942.2,248.2 943.4,248.2 944.7,248.2 945.9,248.2 947.1,248.2 948.3,248.2 949.6,248.2 950.8,248.2 952.0,248.2 953.2,248.2 954.5,248.2 955.7,248.2 956.9,248.2 958.1,248.2 959.3,248.2 960.6,248.2 961.8,248.2 963.0,248.2 964.2,248.2 965.5,248.2 966.7,248.2 967.9,248.2 969.1,248.2 970.4,248.2 971.6,248.2 972.8,248.2 974.0,248.2 975.3,248.2 976.5,248.2 977.7,248.2 978.9,248.2 980.2,248.2 981.4,248.2 982.6,248.2 983.8,248.2 985.1,248.2 986.3,248.2 987.5,248.2 988.7,248.2 990.0,248.2 991.2,248.2 992.4,248.2 993.6,248.2 994.8,248.2 996.1,248.2 997.1,246.8 998.1,245.4 999.1,243.8 1000.1,242.2 1001.1,240.2 1002.1,238.2 1003.1,235.0 1004.1,231.9 1005.1,228.9 1006.1,225.9 1007.4,217.7 1009.0,209.6 1010.0,206.4 1011.0,203.3 1012.0,203.9 1013.0,204.6 1014.8,211.5 1016.4,218.4 1017.9,220.9 1019.7,217.7 1020.7,216.6 1021.7,215.5 1022.7,217.6 1023.7,219.6 1025.3,225.0 1026.3,224.3 1027.3,223.7 1029.1,217.7 1030.6,207.4 1031.6,202.7 1032.6,198.0 1033.9,197.6 1035.1,197.3 1036.3,197.6 1037.5,198.0 1038.5,198.6 1039.5,199.2 1040.5,202.4 1041.5,205.5 1043.3,213.7 1044.9,209.6 1045.9,204.4 1046.9,199.2 1047.9,195.1 1048.9,191.1 1050.1,188.1 1051.4,185.1 1052.4,182.6 1053.4,180.1 1054.5,178.5 1055.6,176.9 1056.6,173.8 1057.6,170.6 1058.6,168.6 1059.6,166.6 1060.6,167.7 1061.6,168.8 1062.6,166.7 1063.6,164.7 1065.2,162.5 1066.3,164.5 1067.4,166.6 1068.4,168.6 1069.4,170.6 1070.6,171.3 1071.9,171.9 1073.1,173.3 1074.3,174.7 1075.3,177.9 1076.3,181.0 1077.3,183.0 1078.3,185.1 1079.3,184.0 1080.3,182.9 1081.3,183.5 1082.3,184.1 1083.3,185.6 1084.3,187.0 1085.5,186.0 1086.6,185.1 1087.6,184.0 1088.6,182.9 1089.6,186.0 1090.6,189.2 1091.6,193.2 1092.6,197.3 1093.6,199.4 1094.6,201.4 1095.6,198.3 1096.6,195.1 1097.6,192.2 1098.6,189.2 1099.6,188.7 1100.6,188.2 1101.7,190.7 1102.8,193.2 1103.8,196.2 1104.8,199.2 1105.8,199.8 1106.9,200.5 1107.9,198.9 1108.9,197.3 1109.9,195.3 1110.9,193.2 1111.9,191.5 1112.9,189.8 1114.0,188.4 1115.1,187.0 1116.1,184.9 1117.1,182.9 1118.3,182.3 1119.6,181.6 1120.8,182.3 1122.0,182.9 1123.0,184.9 1124.0,187.0 1125.0,190.1 1126.0,193.2 1127.0,197.3 1128.0,201.4 1129.0,204.4 1130.0,207.4 1131.0,208.5 1132.0,209.6 1133.3,207.9 1134.5,206.1 1135.7,205.8 1136.9,205.5 1137.9,206.4 1139.0,207.4 1140.1,210.5 1141.2,213.7 1142.7,218.4 1143.7,220.1 1144.7,221.8 1145.7,221.4 1146.8,220.9 1147.8,219.3 1148.8,217.7 1149.8,215.2 1150.8,212.7 1151.9,211.1 1153.0,209.6 1154.0,209.1 1155.0,208.6 1156.0,209.1 1157.0,209.6 1158.0,208.9 1159.0,208.3 1160.0,208.0 1161.0,207.7 1162.0,208.6 1163.0,209.6 1164.8,215.5 1165.9,223.7 1167.3,231.9 1168.4,240.0 1169.9,245.4 1170.9,246.8 1171.9,248.2 1173.1,248.2 1174.2,248.2 1175.4,248.2 1176.5,248.2 1177.7,248.2 1178.8,248.2 1180.0,248.2"/>
<polyline fill="none" stroke="#ff0000" stroke-width="1.1" marker-start="url(#sCi)" marker-mid="url(#sCi)" marker-end="url(#sCi)" points="921.4,248.2 922.6,248.2 923.8,248.2 925.1,248.2 926.3,248.2 927.5,248.2 928.7,248.2 930.0,248.2 931.2,248.2 932.4,248.2 933.6,248.2 934.9,248.2 936.1,248.2 937.3,248.2 938.5,248.2 939.8,248.2 941.0,248.2 942.2,248.2 943.4,248.2 944.7,248.2 945.9,248.2 947.1,248.2 948.3,248.2 949.6,248.2 950.8,248.2 952.0,248.2 953.2,248.2 954.5,248.2 955.7,248.2 956.9,248.2 958.1,248.2 959.3,248.2 960.6,248.2 961.8,248.2 963.0,248.2 964.2,248.2 965.5,248.2 966.7,248.2 967.9,248.2 969.1,248.2 970.4,248.2 971.6,248.2 972.8,248.2 974.0,248.2 975.3,248.2 976.5,248.2 977.7,248.2 978.9,248.2 980.2,248.2 981.4,248.2 982.6,248.2 983.8,248.2 985.1,248.2 986.3,248.2 987.5,248.2 988.7,248.2 990.0,248.2 991.2,248.2 992.4,248.2 993.6,248.2 994.8,248.2 996.1,248.2 997.1,239.1 998.1,230.0 999.2,209.6 1000.1,187.0 1001.2,159.7 1003.0,125.7 1004.1,93.1 1005.4,69.2 1007.0,55.4 1008.1,66.7 1009.4,79.0 1010.6,105.3 1011.9,125.7 1013.0,135.2 1014.8,140.2 1016.4,144.6 1017.7,152.4 1019.3,172.8 1020.4,193.2 1022.2,205.5 1023.7,201.4 1024.7,196.2 1025.7,191.1 1027.2,190.1 1028.6,189.2 1029.7,188.4 1030.8,187.7 1032.0,187.0 1033.5,170.6 1034.6,144.6 1036.0,132.0 1037.1,129.2 1038.4,136.1 1039.5,148.3 1040.9,172.8 1042.0,197.3 1043.3,217.7 1044.4,234.1 1045.8,244.1 1047.1,248.2 1048.3,248.2 1049.6,248.2 1050.8,248.2 1052.0,248.2 1053.2,248.2 1054.4,248.2 1055.6,248.2 1056.9,248.2 1058.1,248.2 1059.3,248.2 1060.5,248.2 1061.7,248.2 1063.0,248.2 1064.2,248.2 1065.4,248.2 1066.6,248.2 1067.8,248.2 1069.1,248.2 1070.3,248.2 1071.5,248.2 1072.7,248.2 1073.9,248.2 1075.2,248.2 1076.4,248.2 1077.6,248.2 1078.8,248.2 1080.0,248.2 1081.2,248.2 1082.5,248.2 1083.7,248.2 1084.9,248.2 1086.1,248.2 1087.3,248.2 1088.6,248.2 1089.8,248.2 1091.0,248.2 1092.2,248.2 1093.4,248.2 1094.7,248.2 1095.9,248.2 1097.1,248.2 1098.3,248.2 1099.5,248.2 1100.8,248.2 1102.0,248.2 1103.2,248.2 1104.4,248.2 1105.6,248.2 1106.8,248.2 1108.1,248.2 1109.3,248.2 1110.5,248.2 1111.7,248.2 1112.9,248.2 1114.2,248.2 1115.4,248.2 1116.6,248.2 1117.8,248.2 1119.0,248.2 1120.3,248.2 1121.5,248.2 1122.7,248.2 1123.9,248.2 1125.1,248.2 1126.5,244.1 1127.6,230.0 1128.9,209.6 1130.5,193.2 1132.0,170.6 1133.8,148.3 1135.4,133.9 1136.5,129.8 1137.8,135.2 1139.0,148.3 1140.3,164.7 1141.8,181.0 1143.4,191.1 1144.5,193.1 1145.6,195.1 1146.6,196.2 1147.6,197.3 1148.6,199.4 1149.6,201.4 1150.8,205.5 1152.1,211.5 1153.2,195.1 1154.6,164.7 1155.7,132.0 1157.0,101.2 1158.6,91.2 1160.1,84.3 1161.9,81.5 1163.5,80.5 1165.0,85.2 1166.8,93.1 1167.9,125.7 1169.7,148.3 1170.8,170.6 1171.9,193.2 1173.3,209.6 1174.4,225.9 1176.2,238.2 1177.7,246.3 1178.8,247.3 1180.0,248.2"/>
<polyline fill="none" stroke="#0000ff" stroke-width="1.1" marker-start="url(#sTu)" marker-mid="url(#sTu)" marker-end="url(#sTu)" points="921.4,246.6 922.6,240.0 923.9,221.8 924.9,213.7 925.9,205.5 926.9,199.4 927.9,193.2 928.9,187.1 929.9,181.0 930.9,177.9 932.0,174.7 933.0,172.7 934.1,170.6 935.7,160.3 936.8,153.4 937.9,147.7 939.0,142.1 940.1,135.5 941.2,127.9 942.6,118.5 943.7,113.8 944.8,110.0 945.9,107.2 947.0,102.5 948.1,98.1 949.3,92.5 950.6,86.8 951.9,83.3 953.7,86.8 955.3,95.3 956.4,105.6 957.7,111.9 959.1,100.9 960.4,84.9 962.2,74.6 963.3,79.3 964.4,97.2 965.5,115.7 966.6,122.3 968.0,115.7 969.1,107.5 970.2,103.8 971.6,100.0 973.1,95.3 974.5,99.0 975.6,107.5 976.7,111.9 978.0,107.5 979.1,100.0 980.2,96.5 981.1,106.0 982.0,117.6 983.1,127.9 984.5,136.7 985.8,148.3 986.9,160.3 988.7,172.8 989.8,185.4 990.7,195.1 991.8,207.4 992.7,221.8 993.8,234.1 995.2,241.9 996.7,246.9 998.3,248.2 999.5,248.2 1000.8,248.2 1002.0,248.2 1003.2,248.2 1004.4,248.2 1005.7,248.2 1006.9,248.2 1008.1,248.2 1009.3,248.2 1010.6,248.2 1011.8,248.2 1013.0,248.2 1014.3,248.2 1015.5,248.2 1016.7,248.2 1017.9,248.2 1019.2,248.2 1020.4,248.2 1021.6,248.2 1022.8,248.2 1024.1,248.2 1025.3,248.2 1026.5,248.2 1027.8,248.2 1029.0,248.2 1030.2,248.2 1031.4,248.2 1032.7,248.2 1033.9,248.2 1035.1,248.2 1036.4,248.2 1037.6,248.2 1038.8,248.2 1040.0,248.2 1041.3,248.2 1042.5,248.2 1043.7,248.2 1044.9,248.2 1046.2,248.2 1047.4,248.2 1048.6,248.2 1049.9,248.2 1051.1,248.2 1052.3,248.2 1053.5,248.2 1054.8,248.2 1056.0,248.2 1057.2,248.2 1058.4,248.2 1059.7,248.2 1060.9,248.2 1062.1,248.2 1063.4,248.2 1064.6,248.2 1065.8,248.2 1067.0,248.2 1068.3,248.2 1069.5,248.2 1070.7,248.2 1071.9,248.2 1073.2,248.2 1074.4,248.2 1075.6,248.2 1076.9,248.2 1078.1,248.2 1079.3,248.2 1080.5,248.2 1081.8,248.2 1083.0,248.2 1084.2,248.2 1085.4,248.2 1086.7,248.2 1087.9,248.2 1089.1,248.2 1090.4,248.2 1091.6,248.2 1092.8,248.2 1094.0,248.2 1095.3,248.2 1096.5,248.2 1097.7,248.2 1099.0,248.2 1100.2,248.2 1101.4,248.2 1102.6,248.2 1103.9,248.2 1105.1,248.2 1106.3,248.2 1107.5,248.2 1108.8,248.2 1110.0,248.2 1111.2,248.2 1112.5,248.2 1113.7,248.2 1114.9,248.2 1116.1,248.2 1117.4,248.2 1118.6,248.2 1119.8,248.2 1121.0,248.2 1122.3,248.2 1123.5,248.2 1124.7,248.2 1126.0,248.2 1127.2,248.2 1128.4,248.2 1129.6,248.2 1130.9,248.2 1132.1,248.2 1133.3,248.2 1134.5,248.2 1135.8,248.2 1137.0,248.2 1138.2,248.2 1139.5,248.2 1140.7,248.2 1141.9,248.2 1143.1,248.2 1144.4,248.2 1145.6,248.2 1146.8,248.2 1148.1,248.2 1149.3,248.2 1150.5,248.2 1151.7,248.2 1153.0,248.2 1154.2,248.2 1155.4,248.2 1156.6,248.2 1157.9,248.2 1159.1,248.2 1160.3,248.2 1161.6,248.2 1162.8,248.2 1164.0,248.2 1165.2,248.2 1166.5,248.2 1167.7,248.2 1168.9,248.2 1170.1,248.2 1171.4,248.2 1172.6,248.2 1173.8,248.2 1175.1,248.2 1176.3,248.2 1177.5,248.2 1178.7,248.2 1180.0,248.2"/>
</g>
<rect x="921.4" y="43.8" width="258.4" height="210.4" fill="none" stroke="#000" stroke-width="1"/>
<path d="M921.4 248.2h4M921.4 216.8h4M921.4 185.4h4M921.4 154.0h4M921.4 122.6h4M921.4 91.2h4M921.4 59.8h4M921.4 232.5h2.4M921.4 201.1h2.4M921.4 169.7h2.4M921.4 138.3h2.4M921.4 106.9h2.4M921.4 75.5h2.4M921.4 254.2v-4M966.0 254.2v-4M1010.6 254.2v-4M1055.1 254.2v-4M1099.7 254.2v-4M1144.3 254.2v-4M943.7 254.2v-2.4M988.3 254.2v-2.4M1032.8 254.2v-2.4M1077.4 254.2v-2.4M1122.0 254.2v-2.4M1166.6 254.2v-2.4" stroke="#000" stroke-width="0.9" fill="none"/>
<g font-family="'Liberation Serif',serif" font-weight="bold" font-size="10px" fill="#000">
<text x="917.4" y="252.1" text-anchor="end">0</text>
<text x="917.4" y="220.7" text-anchor="end">1</text>
<text x="917.4" y="189.3" text-anchor="end">2</text>
<text x="917.4" y="157.9" text-anchor="end">3</text>
<text x="917.4" y="126.5" text-anchor="end">4</text>
<text x="917.4" y="95.1" text-anchor="end">5</text>
<text x="917.4" y="63.7" text-anchor="end">6</text>
<text x="921.4" y="267.4" text-anchor="middle">0</text>
<text x="966.0" y="267.4" text-anchor="middle">20</text>
<text x="1010.6" y="267.4" text-anchor="middle">40</text>
<text x="1055.1" y="267.4" text-anchor="middle">60</text>
<text x="1099.7" y="267.4" text-anchor="middle">80</text>
<text x="1144.3" y="267.4" text-anchor="middle">100</text>
</g>
<text transform="translate(909.5 156.5) rotate(-90)" x="-53.0" font-family="'Liberation Serif',serif" font-weight="bold" font-size="10.7px" textLength="106.0" lengthAdjust="spacingAndGlyphs">Relative Concentration</text>
<text x="1008.3" y="276.9" font-family="'Liberation Serif',serif" font-weight="bold" font-size="10.4px" textLength="85.6" lengthAdjust="spacingAndGlyphs">Distance/Angstrom</text>
<text x="1175.0" y="62.3" text-anchor="end" font-family="'Liberation Serif',serif" font-weight="bold" font-size="15.3px">TP2</text>
<rect x="1025.5" y="46.5" width="55.3" height="39.8" fill="#fff" stroke="#222" stroke-width="0.7"/>
<polyline fill="none" stroke="#000" stroke-width="1.1" marker-mid="url(#sSq)" points="1028.2,54.6 1038.5,54.6 1049.0,54.6"/>
<text x="1050.2" y="58.0" font-family="'Liberation Serif',serif" font-weight="bold" font-size="10.3px">TPU</text>
<polyline fill="none" stroke="#ff0000" stroke-width="1.1" marker-mid="url(#sCi)" points="1028.2,67.8 1038.5,67.8 1049.0,67.8"/>
<text x="1050.2" y="71.2" font-family="'Liberation Serif',serif" font-weight="bold" font-size="10.3px">AO-70</text>
<polyline fill="none" stroke="#0000ff" stroke-width="1.1" marker-mid="url(#sTu)" points="1028.2,80.5 1038.5,80.5 1049.0,80.5"/>
<text x="1050.2" y="83.9" font-family="'Liberation Serif',serif" font-weight="bold" font-size="10.3px">PVAc</text>
</g>
<g id="pb">
<clipPath id="cpb"><rect x="925.9" y="368.7" width="250.3" height="202.7"/></clipPath>
<g clip-path="url(#cpb)">
<polyline fill="none" stroke="#000" stroke-width="1.1" marker-start="url(#sSq)" marker-mid="url(#sSq)" marker-end="url(#sSq)" points="926.4,563.6 928.5,563.6 930.5,563.6 932.6,563.6 934.7,563.6 936.7,563.6 938.8,563.6 940.9,563.6 942.9,563.6 945.0,563.6 947.0,563.6 949.1,563.6 951.2,563.6 953.2,563.6 955.3,563.6 957.4,563.6 959.4,563.6 961.5,563.6 963.6,563.6 965.6,563.6 967.7,563.6 969.8,563.6 971.8,563.6 973.9,563.6 976.0,563.6 978.0,563.6 980.1,563.6 982.2,563.6 984.2,563.6 986.3,563.6 988.3,563.6 990.4,563.6 992.5,563.6 994.5,563.6 996.6,563.6 998.7,563.6 1000.7,563.6 1002.8,563.6 1004.9,563.6 1006.9,563.6 1009.0,563.6 1011.1,563.6 1013.1,563.6 1015.2,563.6 1017.3,563.6 1019.3,563.6 1021.4,563.6 1023.5,563.6 1025.5,563.6 1027.6,563.6 1029.6,563.6 1031.7,563.6 1033.8,563.6 1035.8,563.6 1037.9,563.6 1040.0,563.6 1042.0,563.6 1044.1,563.6 1046.2,563.6 1048.2,563.6 1050.3,563.6 1052.4,563.6 1054.4,563.6 1056.5,563.6 1058.6,563.6 1060.6,563.6 1062.7,563.6 1065.6,559.7 1068.1,554.0 1070.2,547.3 1072.2,538.0 1074.7,526.7 1077.2,516.0 1079.3,505.2 1081.4,496.7 1083.5,490.1 1085.5,483.0 1087.6,473.8 1089.7,464.4 1091.4,455.1 1093.8,444.5 1096.3,436.7 1098.4,432.4 1100.5,430.6 1103.0,428.7 1105.1,425.7 1108.0,422.5 1110.9,421.6 1113.4,424.8 1115.9,429.6 1117.9,435.1 1120.4,440.9 1122.5,445.7 1124.6,451.2 1126.7,457.8 1128.7,468.8 1130.8,483.5 1132.9,499.0 1135.4,514.6 1137.5,528.6 1139.6,540.0 1142.0,546.4 1143.7,550.3 1146.2,553.1 1148.3,555.6 1150.4,557.4 1152.4,559.2 1154.5,560.6 1157.0,562.0 1159.1,563.1 1161.6,563.6 1163.6,563.6 1165.6,563.6 1167.6,563.6 1169.6,563.6 1171.7,563.6 1173.7,563.6 1175.7,563.6"/>
<polyline fill="none" stroke="#ff0000" stroke-width="1.1" marker-start="url(#sCi)" marker-mid="url(#sCi)" marker-end="url(#sCi)" points="926.4,563.6 928.5,563.6 930.5,563.6 932.6,563.6 934.7,563.6 936.7,563.6 938.8,563.6 940.9,563.6 942.9,563.6 945.0,563.6 947.1,563.6 949.1,563.6 951.2,563.6 953.2,563.6 955.3,563.6 957.4,563.6 959.4,563.6 961.5,563.6 963.6,563.6 965.6,563.6 967.7,563.6 969.8,563.6 971.8,563.6 973.9,563.6 976.0,563.6 978.0,563.6 980.1,563.6 982.2,563.6 984.2,563.6 986.3,563.6 988.4,563.6 990.4,563.6 992.5,563.6 994.5,563.6 996.6,563.6 998.7,563.6 1000.7,563.6 1002.8,563.6 1004.9,563.6 1006.9,563.6 1009.0,563.6 1011.1,563.6 1013.1,563.6 1015.2,563.6 1017.3,563.6 1019.3,563.6 1021.4,563.6 1023.5,563.6 1025.5,563.6 1027.6,563.6 1029.7,563.6 1031.7,563.6 1033.8,563.6 1035.9,563.6 1037.9,563.6 1040.0,563.6 1042.0,563.6 1044.1,563.6 1046.2,563.6 1048.2,563.6 1050.3,563.6 1052.4,563.6 1054.4,563.6 1056.5,563.6 1058.6,563.6 1060.6,563.6 1062.7,563.6 1064.8,563.6 1066.4,562.6 1068.1,561.5 1070.6,555.8 1072.7,543.7 1074.7,524.0 1077.2,497.2 1079.1,468.8 1081.0,444.5 1083.0,430.6 1085.5,423.0 1087.2,416.1 1089.7,406.0 1092.2,396.2 1093.8,390.0 1096.3,390.9 1098.8,398.3 1100.9,406.0 1103.0,418.4 1105.1,436.3 1107.1,458.7 1109.2,482.5 1111.3,499.5 1113.8,512.8 1115.9,525.8 1117.9,535.2 1120.4,540.5 1122.5,541.2 1124.6,538.9 1126.7,533.4 1128.7,525.8 1130.8,516.4 1132.9,507.5 1135.4,501.1 1137.9,499.0 1140.0,499.5 1142.0,501.8 1143.7,507.0 1146.2,513.7 1148.3,520.1 1150.8,525.8 1152.8,531.1 1154.5,536.1 1157.0,542.8 1159.1,550.3 1161.2,556.7 1163.7,561.5 1166.1,563.6 1168.1,563.6 1170.0,563.6 1171.9,563.6 1173.8,563.6 1175.7,563.6"/>
<polyline fill="none" stroke="#0000ff" stroke-width="1.1" marker-start="url(#sTu)" marker-mid="url(#sTu)" marker-end="url(#sTu)" points="926.4,563.6 928.5,563.6 930.6,563.6 932.7,563.6 934.8,563.6 936.8,563.6 938.9,563.6 941.0,563.6 943.1,563.6 945.2,563.6 947.3,563.6 949.4,563.6 951.5,563.6 953.6,563.6 955.6,563.6 957.7,563.6 959.8,563.6 961.9,563.6 964.0,563.6 966.1,563.6 968.2,563.6 970.3,563.6 972.3,563.6 974.4,563.6 976.5,563.6 978.6,563.6 980.7,563.6 982.8,563.6 984.9,563.6 987.0,563.6 989.1,563.6 991.1,563.6 993.2,563.6 995.3,563.6 997.4,563.6 999.5,563.6 1001.6,563.6 1003.7,563.6 1005.8,563.6 1007.9,563.6 1009.9,563.6 1012.0,563.6 1014.1,563.6 1016.2,563.6 1018.3,563.6 1020.4,563.6 1022.5,563.6 1024.6,563.6 1026.7,563.6 1028.7,563.6 1030.8,563.6 1032.9,563.6 1035.0,563.6 1037.1,563.6 1039.2,563.6 1041.3,563.6 1043.4,563.6 1045.4,563.6 1047.5,563.6 1049.6,563.6 1051.7,563.6 1053.8,563.6 1055.9,563.6 1058.0,563.6 1060.1,563.6 1062.2,563.6 1064.2,563.6 1066.3,563.6 1068.4,563.6 1070.5,563.6 1072.6,563.6 1074.7,563.6 1076.8,563.6 1078.9,563.6 1081.0,563.6 1083.0,563.6 1085.5,563.1 1088.0,558.8 1090.1,552.1 1092.6,541.8 1094.7,528.6 1096.8,514.6 1098.8,504.3 1100.9,495.8 1103.4,489.2 1105.7,478.2 1107.6,459.9 1110.1,432.4 1112.1,405.1 1114.2,383.6 1116.7,374.2 1118.8,377.9 1120.9,390.9 1122.9,407.0 1124.6,419.8 1126.7,423.9 1128.3,425.7 1130.4,427.3 1132.1,428.0 1134.2,429.2 1135.8,429.6 1137.9,429.9 1140.4,435.4 1142.5,449.3 1144.5,469.7 1146.6,494.9 1149.1,515.5 1151.2,530.4 1153.3,540.9 1155.3,548.5 1157.4,554.0 1159.9,557.9 1162.0,560.6 1164.1,562.5 1166.1,563.6 1168.1,563.6 1170.0,563.6 1171.9,563.6 1173.8,563.6 1175.7,563.6"/>
</g>
<rect x="926.4" y="369.2" width="249.3" height="201.7" fill="none" stroke="#000" stroke-width="1"/>
<path d="M926.4 563.6h4M926.4 517.8h4M926.4 472.0h4M926.4 426.2h4M926.4 380.4h4M926.4 540.7h2.4M926.4 494.9h2.4M926.4 449.1h2.4M926.4 403.3h2.4M926.4 570.9v-4M967.9 570.9v-4M1009.5 570.9v-4M1051.0 570.9v-4M1092.6 570.9v-4M1134.2 570.9v-4M1175.7 570.9v-4M947.2 570.9v-2.4M988.7 570.9v-2.4M1030.3 570.9v-2.4M1071.8 570.9v-2.4M1113.4 570.9v-2.4M1154.9 570.9v-2.4" stroke="#000" stroke-width="0.9" fill="none"/>
<g font-family="'Liberation Serif',serif" font-weight="bold" font-size="10px" fill="#000">
<text x="922.4" y="567.5" text-anchor="end">0</text>
<text x="922.4" y="521.7" text-anchor="end">2</text>
<text x="922.4" y="475.9" text-anchor="end">4</text>
<text x="922.4" y="430.1" text-anchor="end">6</text>
<text x="922.4" y="384.3" text-anchor="end">8</text>
<text x="926.4" y="584.1" text-anchor="middle">0</text>
<text x="967.9" y="584.1" text-anchor="middle">10</text>
<text x="1009.5" y="584.1" text-anchor="middle">20</text>
<text x="1051.0" y="584.1" text-anchor="middle">30</text>
<text x="1092.6" y="584.1" text-anchor="middle">40</text>
<text x="1134.2" y="584.1" text-anchor="middle">50</text>
<text x="1175.7" y="584.1" text-anchor="middle">60</text>
</g>
<text transform="translate(915.0 476.6) rotate(-90)" x="-49.5" font-family="'Liberation Serif',serif" font-weight="bold" font-size="10.3px" textLength="99.0" lengthAdjust="spacingAndGlyphs">Relative concentration</text>
<text x="1009.9" y="592.6" font-family="'Liberation Serif',serif" font-weight="bold" font-size="10.0px" textLength="82.3" lengthAdjust="spacingAndGlyphs">Distance/Angstrom</text>
<text x="1171.8" y="386.0" text-anchor="end" font-family="'Liberation Serif',serif" font-weight="bold" font-size="15.3px">TP32</text>
<rect x="1016.3" y="371.5" width="53.2" height="39.0" fill="#fff" stroke="#222" stroke-width="0.7"/>
<polyline fill="none" stroke="#000" stroke-width="1.1" marker-mid="url(#sSq)" points="1019.0,379.6 1029.3,379.6 1039.8,379.6"/>
<text x="1040.0" y="383.0" font-family="'Liberation Serif',serif" font-weight="bold" font-size="9.7px">TPU</text>
<polyline fill="none" stroke="#ff0000" stroke-width="1.1" marker-mid="url(#sCi)" points="1019.0,392.3 1029.3,392.3 1039.8,392.3"/>
<text x="1040.0" y="395.7" font-family="'Liberation Serif',serif" font-weight="bold" font-size="9.7px">AO-70</text>
<polyline fill="none" stroke="#0000ff" stroke-width="1.1" marker-mid="url(#sTu)" points="1019.0,404.5 1029.3,404.5 1039.8,404.5"/>
<text x="1040.0" y="407.9" font-family="'Liberation Serif',serif" font-weight="bold" font-size="9.7px">PVAc</text>
</g>
</svg></body></html>
